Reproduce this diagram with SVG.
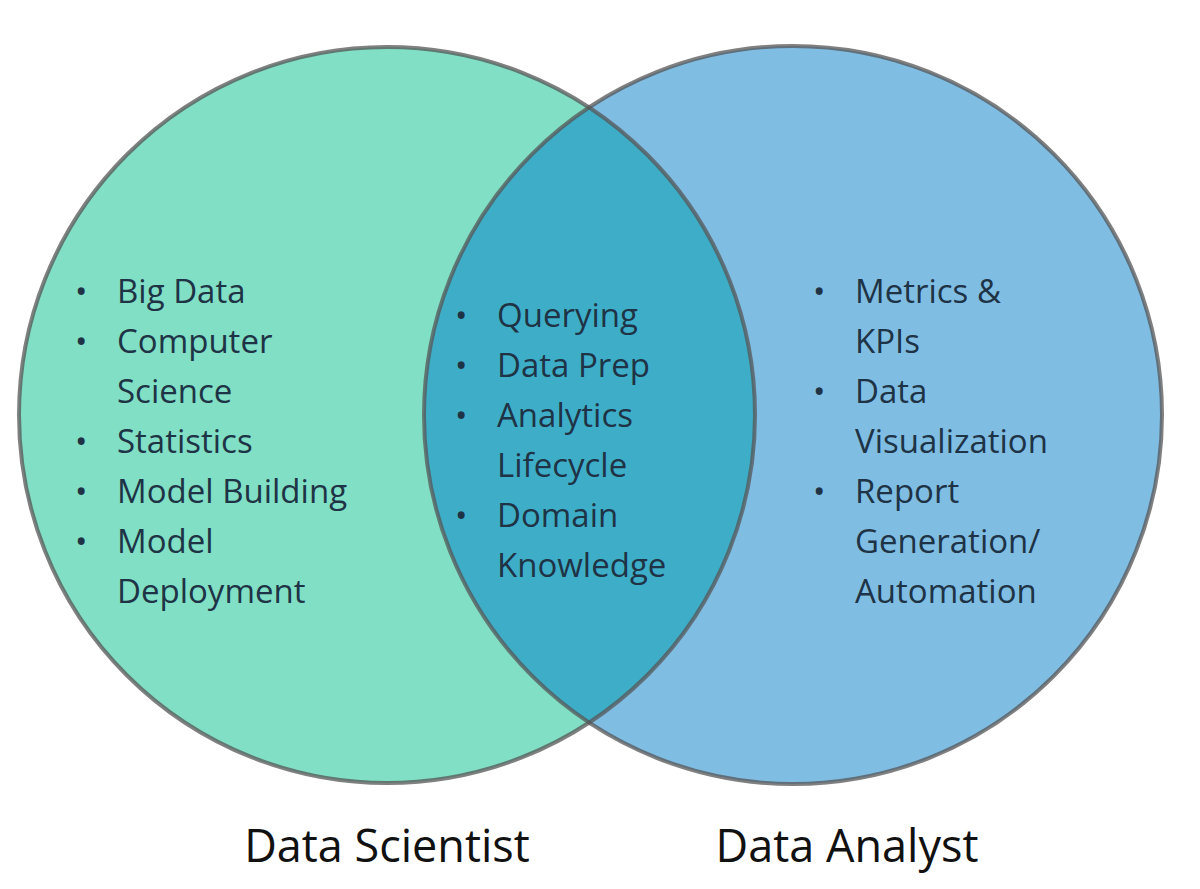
<svg xmlns="http://www.w3.org/2000/svg" width="1200" height="889" viewBox="0 0 1200 889">
<style>
text{font-family:"Open Sans","Noto Sans",sans-serif;fill:#1e3345}
.t{font-size:33px}
.b{font-size:33px}
.l{font-size:45px;fill:#111}
.c{fill:none;stroke:#555;stroke-width:4;stroke-opacity:0.75}
</style>
<defs><clipPath id="cl"><circle cx="387" cy="415" r="368"/></clipPath></defs>
<rect width="1200" height="889" fill="#fff"/>
<g id="left"><circle cx="387" cy="415" r="368" fill="#80dfc4"/></g>
<g id="right"><circle cx="793" cy="415" r="369" fill="#7fbde3"/></g>
<g id="overlap"><circle cx="793" cy="415" r="369" fill="#3eaec8" clip-path="url(#cl)"/></g>
<g id="outlines"><circle class="c" cx="387" cy="415" r="368"/><circle class="c" cx="793" cy="415" r="369"/></g>
<g id="left-text" class="t">
<text x="75" y="303" class="b">•</text><text x="117" y="303">Big Data</text>
<text x="75" y="353">•</text><text x="117" y="353">Computer</text>
<text x="117" y="403">Science</text>
<text x="75" y="453">•</text><text x="117" y="453">Statistics</text>
<text x="75" y="503">•</text><text x="117" y="503">Model Building</text>
<text x="75" y="553">•</text><text x="117" y="553">Model</text>
<text x="117" y="603">Deployment</text>
</g>
<g id="mid-text" class="t">
<text x="455" y="327">•</text><text x="497" y="327">Querying</text>
<text x="455" y="377">•</text><text x="497" y="377">Data Prep</text>
<text x="455" y="427">•</text><text x="497" y="427">Analytics</text>
<text x="497" y="477">Lifecycle</text>
<text x="455" y="527">•</text><text x="497" y="527">Domain</text>
<text x="497" y="577">Knowledge</text>
</g>
<g id="right-text" class="t">
<text x="813" y="303">•</text><text x="855" y="303">Metrics &amp;</text>
<text x="855" y="353">KPIs</text>
<text x="813" y="403">•</text><text x="855" y="403">Data</text>
<text x="855" y="453">Visualization</text>
<text x="813" y="503">•</text><text x="855" y="503">Report</text>
<text x="855" y="553">Generation/</text>
<text x="855" y="603">Automation</text>
</g>
<g id="labels">
<text class="l" x="387" y="862" text-anchor="middle">Data Scientist</text>
<text class="l" x="847" y="862" text-anchor="middle">Data Analyst</text>
</g>
</svg>
